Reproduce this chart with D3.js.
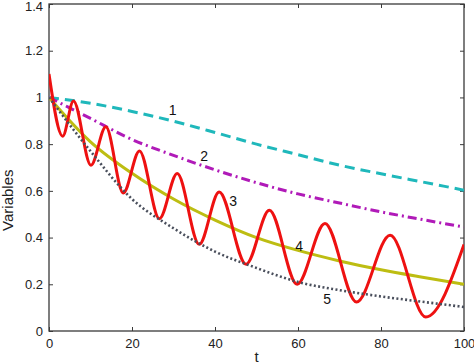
<!DOCTYPE html>
<html><head><meta charset="utf-8">
<script src="https://cdn.jsdelivr.net/npm/d3@7"></script>
<style>
html,body{margin:0;padding:0;background:#fff;}
svg{display:block;font-family:"Liberation Sans",Arial,Helvetica,sans-serif;}
</style></head>
<body>
<svg id="chart" width="474" height="364"></svg>
<script>
// ---- data ----
const tSmooth = [0, 10, 20, 30, 40, 50, 60, 70, 80, 90, 100];
const curve1 = [1.0, 0.975, 0.94, 0.898, 0.85, 0.80, 0.755, 0.71, 0.673, 0.638, 0.603];
const curve2 = [1.0, 0.91, 0.82, 0.752, 0.69, 0.635, 0.587, 0.548, 0.51, 0.477, 0.445];
const curve4 = [1.0, 0.81, 0.675, 0.565, 0.475, 0.40, 0.345, 0.30, 0.262, 0.23, 0.20];
const curve5 = [1.0, 0.77, 0.565, 0.44, 0.34, 0.27, 0.21, 0.175, 0.148, 0.125, 0.103];
const tRed = [0, 3.3, 5.9, 10.1, 13.7, 17.9, 21.8, 26.6, 30.9, 36.2, 41.0, 47.5, 53.1, 59.8, 66.5, 74.1, 82.2, 90.8, 100];
const curve3 = [1.10, 0.834, 0.985, 0.71, 0.874, 0.591, 0.771, 0.481, 0.674, 0.371, 0.595, 0.286, 0.517, 0.20, 0.46, 0.124, 0.41, 0.06, 0.37];
const xTicks = [0, 20, 40, 60, 80, 100];
const yTicks = [0, 0.2, 0.4, 0.6, 0.8, 1, 1.2, 1.4];
const curveLabels = [
  {text: "1", t: 29.8, v: 0.945},
  {text: "2", t: 37.4, v: 0.748},
  {text: "3", t: 44.4, v: 0.555},
  {text: "4", t: 60.3, v: 0.365},
  {text: "5", t: 67.0, v: 0.135}
];

// ---- layout ----
const svg = d3.select("#chart");
const L = 49, R = 464, T = 4, B = 331;
const x = d3.scaleLinear().domain([0, 100]).range([L, R]);
const y = d3.scaleLinear().domain([0, 1.4]).range([B, T]);
const axisColor = "#3a3a3a";
const tickLen = 4;

// frame
svg.append("rect").attr("x", L).attr("y", T).attr("width", R - L).attr("height", B - T)
  .attr("fill", "none").attr("stroke", axisColor).attr("stroke-width", 1.3);

// axes with inward ticks
const xAxisB = d3.axisBottom(x).tickValues(xTicks).tickSizeInner(-tickLen).tickSizeOuter(0).tickPadding(8)
  .tickFormat(d => String(d));
const gxb = svg.append("g").attr("transform", `translate(0,${B})`).call(xAxisB);
const xAxisT = d3.axisTop(x).tickValues(xTicks).tickSizeInner(-tickLen).tickSizeOuter(0).tickFormat("");
const gxt = svg.append("g").attr("transform", `translate(0,${T})`).call(xAxisT);
const yAxisL = d3.axisLeft(y).tickValues(yTicks).tickSizeInner(-tickLen).tickSizeOuter(0).tickPadding(5)
  .tickFormat(d => String(d));
const gyl = svg.append("g").attr("transform", `translate(${L},0)`).call(yAxisL);
const yAxisR = d3.axisRight(y).tickValues(yTicks).tickSizeInner(-tickLen).tickSizeOuter(0).tickFormat("");
const gyr = svg.append("g").attr("transform", `translate(${R},0)`).call(yAxisR);
[gxb, gxt, gyl, gyr].forEach(g => {
  g.select(".domain").remove();
  g.selectAll(".tick line").attr("stroke", axisColor).attr("stroke-width", 1);
  g.selectAll(".tick text").attr("fill", "#222").style("font-size", "13px")
    .style("font-family", "'Liberation Sans', Arial, sans-serif");
});
gyl.selectAll(".tick text").attr("dx", "-1");
// keep the top label inside the picture
gyl.selectAll(".tick text").filter(d => d === 1.4).attr("y", 2);

// axis titles
svg.append("text").attr("x", x(50)).attr("y", 362).attr("text-anchor", "middle")
  .style("font-size", "15px").attr("fill", "#222").text("t");
svg.append("text").attr("transform", `translate(13,${y(0.56)}) rotate(-90)`).attr("text-anchor", "middle")
  .style("font-size", "15px").attr("fill", "#222").text("Variables");

// clip
svg.append("clipPath").attr("id", "clip").append("rect")
  .attr("x", L).attr("y", T).attr("width", R - L).attr("height", B - T);
const plot = svg.append("g").attr("clip-path", "url(#clip)");

const lineS = d3.line().x((d, i) => x(tSmooth[i])).y(d => y(d)).curve(d3.curveMonotoneX);
const lineR = d3.line().x((d, i) => x(tRed[i])).y(d => y(d)).curve(d3.curveMonotoneX);

plot.append("path").datum(curve1).attr("d", lineS).attr("fill", "none")
  .attr("stroke", "#1fb8bb").attr("stroke-width", 3).attr("stroke-dasharray", "10,6");
plot.append("path").datum(curve2).attr("d", lineS).attr("fill", "none")
  .attr("stroke", "#b01ab8").attr("stroke-width", 3).attr("stroke-dasharray", "9,4,2,4");
plot.append("path").datum(curve4).attr("d", lineS).attr("fill", "none")
  .attr("stroke", "#bdbd12").attr("stroke-width", 3);
plot.append("path").datum(curve3).attr("d", lineR).attr("fill", "none")
  .attr("stroke", "#ee1111").attr("stroke-width", 3).attr("stroke-linejoin", "round");
plot.append("path").datum(curve5).attr("d", lineS).attr("fill", "none")
  .attr("stroke", "#4a4f5c").attr("stroke-width", 2.6).attr("stroke-dasharray", "2,2.4");

// curve labels
svg.selectAll("text.cl").data(curveLabels).enter().append("text").attr("class", "cl")
  .attr("x", d => x(d.t)).attr("y", d => y(d.v)).attr("text-anchor", "middle").attr("dy", "0.35em")
  .style("font-size", "14px").attr("fill", "#111").text(d => d.text);
</script>
</body></html>
